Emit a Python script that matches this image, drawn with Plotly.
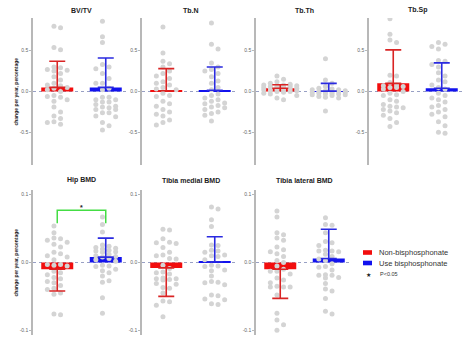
import numpy as np
import plotly.graph_objects as go

# ---- data -------------------------------------------------------------
panels = ["BV/TV", "Tb.N", "Tb.Th", "Tb.Sp",
          "Hip BMD", "Tibia medial BMD", "Tibia lateral BMD"]
groups = ["Non-bisphosphonate", "Use bisphosphonate"]
sig_label = "P<0.05"

bvtv_non = [0.80, 0.78, 0.54, 0.51, 0.30, 0.29, 0.27, 0.26, 0.25, 0.22, 0.18, 0.14,
            0.10, 0.08, 0.07, 0.05, 0.04, 0.02, 0.00, -0.05, -0.06, -0.07, -0.10,
            -0.12, -0.19, -0.25, -0.30, -0.33, -0.37, -0.38, -0.40]
bvtv_use = [0.86, 0.67, 0.60, 0.33, 0.30, 0.28, 0.22, 0.16, 0.10, 0.10, 0.04, 0.02,
            -0.07, -0.07, -0.10, -0.10, -0.13, -0.13, -0.16, -0.18, -0.19, -0.20,
            -0.22, -0.22, -0.26, -0.26, -0.30, -0.31, -0.38, -0.42, -0.47]
tbn_non = [0.79, 0.47, 0.37, 0.34, 0.30, 0.25, 0.22, 0.19, 0.16, 0.12, 0.10, 0.08,
           0.05, 0.03, 0.02, -0.02, -0.05, -0.06, -0.12, -0.15, -0.18, -0.22, -0.25,
           -0.28, -0.30, -0.35, -0.38, -0.41]
tbn_use = [0.84, 0.58, 0.52, 0.35, 0.30, 0.27, 0.25, 0.22, 0.18, 0.13, 0.10, 0.05,
           0.02, -0.03, -0.05, -0.08, -0.10, -0.12, -0.14, -0.15, -0.17, -0.19, -0.20,
           -0.22, -0.25, -0.27, -0.29, -0.36]
tbth_non = [0.19, 0.15, 0.12, 0.10, 0.09, 0.08, 0.08, 0.07, 0.07, 0.06, 0.06, 0.05,
            0.05, 0.05, 0.04, 0.04, 0.03, 0.03, 0.02, 0.02, 0.01, 0.01, 0.00, 0.00,
            -0.01, -0.02, -0.03, -0.05, -0.08, -0.10]
tbth_use = [0.40, 0.14, 0.10, 0.06, 0.04, 0.03, 0.02, 0.02, 0.01, 0.01, 0.00, 0.00,
            0.00, -0.01, -0.01, -0.01, -0.02, -0.02, -0.03, -0.03, -0.04, -0.04,
            -0.05, -0.06, -0.07, -0.08, -0.24]
tbsp_non = [0.89, 0.70, 0.63, 0.60, 0.20, 0.19, 0.11, 0.08, 0.07, 0.06, 0.05, 0.05,
            0.03, 0.00, -0.02, -0.04, -0.05, -0.10, -0.12, -0.16, -0.18, -0.19, -0.20,
            -0.22, -0.24, -0.26, -0.29, -0.33, -0.38, -0.43]
tbsp_use = [0.60, 0.58, 0.55, 0.52, 0.38, 0.37, 0.33, 0.30, 0.23, 0.19, 0.14, 0.12,
            0.08, 0.05, 0.03, -0.02, -0.05, -0.08, -0.10, -0.13, -0.17, -0.19, -0.22,
            -0.25, -0.28, -0.31, -0.37, -0.42, -0.50, -0.51]
hip_non = [0.054, 0.044, 0.036, 0.035, 0.033, 0.030, 0.027, 0.023, 0.015, 0.013,
           0.010, 0.008, 0.004, -0.003, -0.003, -0.004, -0.005, -0.013, -0.015,
           -0.018, -0.022, -0.024, -0.028, -0.030, -0.034, -0.038, -0.040, -0.045,
           -0.047, -0.076, -0.077]
hip_use = [0.067, 0.056, 0.045, 0.026, 0.024, 0.022, 0.021, 0.020, 0.018, 0.017,
           0.016, 0.015, 0.012, 0.010, 0.009, 0.008, 0.006, 0.004, 0.002, -0.004,
           -0.005, -0.006, -0.010, -0.012, -0.015, -0.020, -0.027, -0.029, -0.052,
           -0.075]
tmed_non = [0.049, 0.048, 0.035, 0.030, 0.029, 0.028, 0.022, 0.015, 0.011, 0.010,
            0.006, 0.005, -0.004, -0.009, -0.014, -0.015, -0.017, -0.023, -0.024,
            -0.024, -0.025, -0.026, -0.031, -0.032, -0.037, -0.038, -0.045, -0.057,
            -0.058, -0.063, -0.080]
tmed_use = [0.082, 0.079, 0.063, 0.053, 0.026, 0.025, 0.018, 0.017, 0.015, 0.011,
            0.010, 0.009, 0.004, -0.004, -0.005, -0.006, -0.011, -0.012, -0.020,
            -0.028, -0.029, -0.030, -0.033, -0.048, -0.049, -0.054, -0.055, -0.061,
            -0.062]
tlat_non = [0.076, 0.067, 0.044, 0.041, 0.036, 0.033, 0.023, 0.019, 0.016, 0.013,
            0.009, 0.003, 0.000, -0.005, -0.010, -0.013, -0.013, -0.017, -0.023,
            -0.026, -0.030, -0.035, -0.036, -0.036, -0.036, -0.048, -0.075, -0.085,
            -0.092, -0.100]
tlat_use = [0.066, 0.056, 0.055, 0.044, 0.031, 0.029, 0.025, 0.018, 0.017, 0.017,
            0.016, 0.012, 0.009, 0.005, 0.003, -0.002, -0.006, -0.007, -0.011, -0.018,
            -0.019, -0.019, -0.022, -0.023, -0.031, -0.039, -0.042, -0.053, -0.072,
            -0.076]

points_non = [bvtv_non, tbn_non, tbth_non, tbsp_non, hip_non, tmed_non, tlat_non]
points_use = [bvtv_use, tbn_use, tbth_use, tbsp_use, hip_use, tmed_use, tlat_use]

# group means and SD (error bar drawn away from zero)
mean_non = [0.05, 0.01, 0.04, 0.10, -0.010, -0.008, -0.010]
mean_use = [0.05, 0.015, 0.005, 0.04, 0.008, 0.001, 0.006]
sd_non = [0.32, 0.27, 0.043, 0.41, 0.032, 0.042, 0.043]
sd_use = [0.36, 0.285, 0.095, 0.31, 0.028, 0.037, 0.043]

# significance bracket on Hip BMD
sig_panel = 4
sig_top = 0.077
sig_leg = 0.058

# ---- layout geometry (pixels) -----------------------------------------
W, H = 474, 345
col_left = [33, 142, 256, 369]
panel_w = 97
row_px = [(18, 165), (190, 335)]
row_range = [(-0.9, 0.9), (-0.107, 0.107)]
row_ticks = [([-0.5, 0, 0.5], ["-0.5", "0.0", "0.5"]),
             ([-0.1, 0, 0.1], ["-0.1", "0.0", "0.1"])]
title_px = [10, 180]

RED, BLUE = "#f20d0d", "#1212ee"
RED_ERR, BLUE_ERR = "#d92424", "#2a2ae0"
DOT = "#d4d4d4"
DOT_SIZE = 5
FONT = "Arial, Liberation Sans"


def axis_ids(n):
    return ("x", "y") if n == 1 else (f"x{n}", f"y{n}")


def swarm(vals, ppu_y, ppu_x, diam=DOT_SIZE, gap=6.6, ncol=4):
    """Column scatter: points fill fixed columns, innermost free column first."""
    vals = np.asarray(vals, float)
    order = np.argsort(-vals)
    offs = np.zeros(len(vals))
    half = (ncol - 1) / 2
    cols = sorted([(j - half) * gap for j in range(ncol)], key=lambda c: (abs(c), c))
    last = {c: None for c in cols}
    for k in order:
        y = vals[k] * ppu_y
        pick = None
        for c in cols:
            if last[c] is None or last[c] - y >= diam * 1.0:
                pick = c
                break
        if pick is None:
            pick = max(cols, key=lambda c: last[c] - y)
        last[pick] = y
        offs[k] = pick / ppu_x
    return offs


fig = go.Figure()
layout = dict(width=W, height=H, margin=dict(l=0, r=0, t=0, b=0),
              paper_bgcolor="white", plot_bgcolor="white", showlegend=False,
              shapes=[], annotations=[])

for i, name in enumerate(panels):
    row = 0 if i < 4 else 1
    col = i if i < 4 else i - 4
    n = i + 1
    xa, ya = axis_ids(n)
    xk = "xaxis" if n == 1 else f"xaxis{n}"
    yk = "yaxis" if n == 1 else f"yaxis{n}"
    x0 = col_left[col]
    top_px, bot_px = row_px[row]
    lo, hi = row_range[row]
    layout[xk] = dict(domain=[x0 / W, (x0 + panel_w) / W], range=[-0.5, 1.5],
                      visible=False, anchor=ya, fixedrange=True)
    tv, tt = row_ticks[row]
    layout[yk] = dict(domain=[1 - bot_px / H, 1 - top_px / H], range=[lo, hi],
                      anchor=xa, showline=True, linecolor="#b8b8b8", linewidth=1.5,
                      ticks="outside", ticklen=2, tickwidth=1, tickcolor="#b8b8b8",
                      tickvals=tv, ticktext=tt, showgrid=False, zeroline=False,
                      tickfont=dict(family=FONT, size=5, color="#666"),
                      fixedrange=True)

    ppu_y = (bot_px - top_px) / (hi - lo)
    ppu_x = panel_w / 2.0

    # dotted zero line behind the bars
    layout["shapes"].append(dict(type="line", xref=f"{xa} domain", yref=ya,
                                 x0=0, x1=0.98, y0=0, y1=0, layer="below",
                                 line=dict(color="#98a0c4", width=1, dash="dot")))

    for g, (pts, m, sd, col_bar, col_err) in enumerate([
            (points_non[i], mean_non[i], sd_non[i], RED, RED_ERR),
            (points_use[i], mean_use[i], sd_use[i], BLUE, BLUE_ERR)]):
        fig.add_trace(go.Bar(x=[g], y=[m], width=0.66,
                             marker=dict(color=col_bar, line=dict(width=0)),
                             xaxis=xa, yaxis=ya, hoverinfo="skip"))
        offs = swarm(pts, ppu_y, ppu_x, ncol=6 if i == 2 else 4)
        fig.add_trace(go.Scatter(x=g + offs, y=pts, mode="markers",
                                 marker=dict(size=DOT_SIZE, color=DOT, line=dict(width=0)),
                                 xaxis=xa, yaxis=ya, hoverinfo="skip"))
        up = m >= 0
        fig.add_trace(go.Scatter(x=[g], y=[m], mode="markers",
                                 marker=dict(size=1, color=col_err),
                                 error_y=dict(type="data", symmetric=False,
                                              array=[sd if up else 0],
                                              arrayminus=[0 if up else sd],
                                              color=col_err, thickness=1.6, width=8),
                                 xaxis=xa, yaxis=ya, hoverinfo="skip"))

    layout["annotations"].append(dict(
        text=f"<b>{name}</b>", xref=f"{xa} domain", yref="paper", x=0.5,
        y=1 - title_px[row] / H, showarrow=False, xanchor="center", yanchor="middle",
        font=dict(family=FONT, size=7, color="#222")))

    if col == 0:
        layout["annotations"].append(dict(
            text="<b>change per year, percentage</b>", xref="paper", yref="paper",
            x=15 / W, y=1 - (top_px + bot_px) / 2 / H, textangle=-90, showarrow=False,
            xanchor="center", yanchor="middle",
            font=dict(family=FONT, size=5, color="#222")))

# significance bracket
sx, sy = axis_ids(sig_panel + 1)
fig.add_trace(go.Scatter(x=[0, 0, 1, 1], y=[sig_leg, sig_top, sig_top, sig_leg],
                         mode="lines", line=dict(color="#44dd44", width=1.5),
                         xaxis=sx, yaxis=sy, hoverinfo="skip"))
layout["annotations"].append(dict(text="<b>*</b>", xref=sx, yref=sy, x=0.5,
                                  y=sig_top, yanchor="bottom", showarrow=False, yshift=-3,
                                  font=dict(family=FONT, size=7, color="#222")))

# legend drawn with shapes and labels
leg_x0, leg_x1 = 363, 372
for (name, colr, yc) in [(groups[0], RED, 252.5), (groups[1], BLUE, 263)]:
    layout["shapes"].append(dict(type="rect", xref="paper", yref="paper",
                                 x0=leg_x0 / W, x1=leg_x1 / W,
                                 y0=1 - (yc + 2.3) / H, y1=1 - (yc - 2.3) / H,
                                 fillcolor=colr, line=dict(width=0)))
    layout["annotations"].append(dict(text=name, xref="paper", yref="paper",
                                      x=377 / W, y=1 - yc / H, xanchor="left",
                                      yanchor="middle", showarrow=False,
                                      font=dict(family=FONT, size=7.5, color="#333")))
layout["annotations"].append(dict(text="★", xref="paper", yref="paper", x=368 / W,
                                  y=1 - 274 / H, xanchor="center", yanchor="middle",
                                  showarrow=False,
                                  font=dict(family="DejaVu Sans", size=6, color="#222")))
layout["annotations"].append(dict(text=sig_label, xref="paper", yref="paper", x=378 / W,
                                  y=1 - 274 / H, xanchor="left", yanchor="middle",
                                  showarrow=False,
                                  font=dict(family=FONT, size=5.5, color="#333")))

fig.update_layout(**layout)
fig.write_html("out.html", config=dict(displayModeBar=False))
